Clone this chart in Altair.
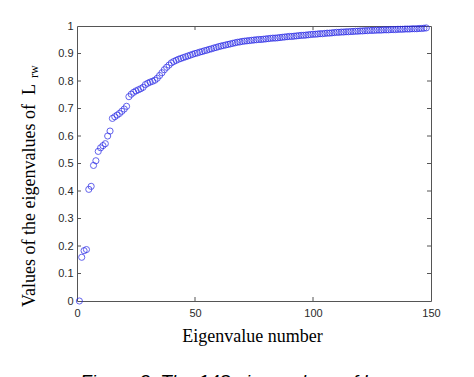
import altair as alt
import pandas as pd

# ---- data ----
eig_index = list(range(1, 149))
eig_values = [
    0.000, 0.159, 0.183, 0.187, 0.406, 0.417, 0.493, 0.510, 0.544, 0.557,
    0.565, 0.572, 0.600, 0.618, 0.664, 0.670, 0.676, 0.682, 0.690, 0.698,
    0.708, 0.743, 0.752, 0.759, 0.764, 0.768, 0.772, 0.777, 0.787, 0.792,
    0.796, 0.799, 0.803, 0.810, 0.820, 0.830, 0.841, 0.850, 0.858, 0.866,
    0.871, 0.875, 0.879, 0.882, 0.885, 0.888, 0.891, 0.894, 0.897, 0.900,
    0.902, 0.905, 0.907, 0.910, 0.912, 0.915, 0.917, 0.920, 0.922, 0.925,
    0.927, 0.929, 0.931, 0.933, 0.935, 0.937, 0.939, 0.941, 0.942, 0.944,
    0.945, 0.946, 0.947, 0.948, 0.949, 0.950, 0.951, 0.951, 0.952, 0.953,
    0.954, 0.955, 0.956, 0.956, 0.957, 0.958, 0.959, 0.960, 0.961, 0.962,
    0.962, 0.963, 0.964, 0.965, 0.966, 0.966, 0.967, 0.968, 0.969, 0.970,
    0.970, 0.971, 0.972, 0.972, 0.973, 0.974, 0.974, 0.975, 0.976, 0.977,
    0.977, 0.978, 0.978, 0.979, 0.979, 0.980, 0.980, 0.981, 0.981, 0.982,
    0.982, 0.983, 0.983, 0.984, 0.984, 0.984, 0.985, 0.985, 0.985, 0.986,
    0.986, 0.986, 0.987, 0.987, 0.987, 0.988, 0.988, 0.988, 0.989, 0.989,
    0.989, 0.990, 0.990, 0.990, 0.991, 0.991, 0.992, 0.993,
]
x_ticks = [0, 50, 100, 150]
y_ticks = [0, 0.1, 0.2, 0.3, 0.4, 0.5, 0.6, 0.7, 0.8, 0.9, 1]
x_inner_ticks = [50, 100]
y_inner_ticks = [0.1, 0.2, 0.3, 0.4, 0.5, 0.6, 0.7, 0.8, 0.9]

x_title = "Eigenvalue number"
y_title = "Values of the eigenvalues of\u00a0 L"
y_sub = "rw"
caption = "Figure 3: The 148 eigenvalues of L"

W, H = 354, 275
FRAME = "#555555"

df = pd.DataFrame({"n": eig_index, "v": eig_values})
xs = alt.Scale(domain=[0, 150], nice=False, zero=False)
ys = alt.Scale(domain=[0, 1], nice=False)

lab = dict(labelFont="Liberation Sans", labelFontSize=11, labelColor="#2a2a2a",
           labelFlush=False, labelOverlap=False, ticks=False, domain=False,
           grid=False, title=None)
x_axis = alt.Axis(values=x_ticks, labelPadding=6, **lab)
y_axis = alt.Axis(values=y_ticks, format="~g", labelPadding=4, **lab)

points = alt.Chart(df).mark_point(
    shape="circle", filled=False, size=38, stroke="#2222e6", strokeWidth=1.0
).encode(
    x=alt.X("n:Q", scale=xs, axis=x_axis),
    y=alt.Y("v:Q", scale=ys, axis=y_axis),
)

ydf = pd.DataFrame({"t": y_inner_ticks})
xdf = pd.DataFrame({"t": x_inner_ticks})
rule_style = dict(color=FRAME, strokeWidth=1)
tl = alt.Chart(ydf).mark_rule(**rule_style).encode(
    y=alt.Y("t:Q", scale=ys, axis=y_axis), x=alt.value(0), x2=alt.value(4))
tr = alt.Chart(ydf).mark_rule(**rule_style).encode(
    y=alt.Y("t:Q", scale=ys, axis=y_axis), x=alt.value(W - 4), x2=alt.value(W))
tb = alt.Chart(xdf).mark_rule(**rule_style).encode(
    x=alt.X("t:Q", scale=xs, axis=x_axis), y=alt.value(H - 4), y2=alt.value(H))
tt = alt.Chart(xdf).mark_rule(**rule_style).encode(
    x=alt.X("t:Q", scale=xs, axis=x_axis), y=alt.value(0), y2=alt.value(4))

ytxt = alt.Chart(pd.DataFrame({"t": [y_title]})).mark_text(
    angle=270, align="left", baseline="alphabetic",
    font="Liberation Serif", fontSize=18, color="black"
).encode(text="t:N", x=alt.value(-42), y=alt.value(281))
ysub = alt.Chart(pd.DataFrame({"t": [y_sub]})).mark_text(
    angle=270, align="left", baseline="alphabetic",
    font="Liberation Serif", fontSize=12, color="black"
).encode(text="t:N", x=alt.value(-39), y=alt.value(52))
xtxt = alt.Chart(pd.DataFrame({"t": [x_title]})).mark_text(
    align="center", baseline="alphabetic",
    font="Liberation Serif", fontSize=18, color="black"
).encode(text="t:N", x=alt.value(175.5), y=alt.value(316))
cap = alt.Chart(pd.DataFrame({"t": [caption]})).mark_text(
    align="left", baseline="alphabetic", fontStyle="italic",
    font="Liberation Sans", fontSize=19, color="black"
).encode(text="t:N", x=alt.value(3), y=alt.value(362))

chart = alt.layer(points, tl, tr, tb, tt, ytxt, ysub, xtxt, cap).properties(
    width=W, height=H,
    autosize=alt.AutoSizeParams(type="none"),
    padding={"left": 69, "top": 18, "right": 35, "bottom": 76},
    background="white",
).configure_view(stroke=FRAME, strokeWidth=1)

chart.save("out.html", embed_options={"renderer": "svg", "actions": False})
